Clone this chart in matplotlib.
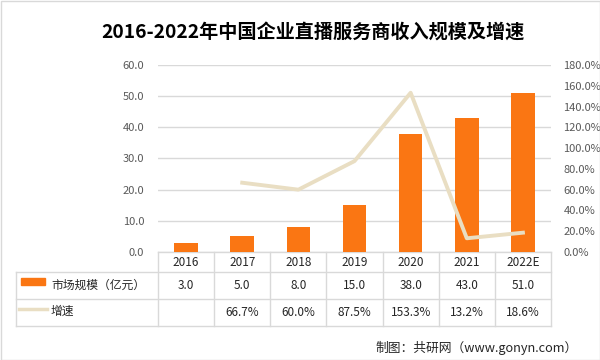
import numpy as np
import matplotlib
matplotlib.use('Agg')
import matplotlib.pyplot as plt
import matplotlib.transforms as mtransforms
from matplotlib.patches import Rectangle
from matplotlib.lines import Line2D

plt.rcParams['font.family'] = ['Noto Sans CJK SC', 'DejaVu Sans']

years = ['2016', '2017', '2018', '2019', '2020', '2021', '2022E']
market = [3.0, 5.0, 8.0, 15.0, 38.0, 43.0, 51.0]
growth = [np.nan, 66.7, 60.0, 87.5, 153.3, 13.2, 18.6]
left_ticks = [0, 10, 20, 30, 40, 50, 60]
right_ticks = [0, 20, 40, 60, 80, 100, 120, 140, 160, 180]

title = '2016-2022年中国企业直播服务商收入规模及增速'
bar_name = '市场规模（亿元）'
line_name = '增速'
source = '制图：共研网（www.gonyn.com）'

bar_color = '#FA7613'
line_color = '#E9DEC3'
grid_color = '#D9D9D9'
tick_color = '#595959'
text_color = '#262626'

W, H = 600, 360
fig = plt.figure(figsize=(6, 3.6), dpi=100)
ax = fig.add_axes([158 / W, 1 - 252 / H, (551 - 158) / W, (252 - 65) / H])
ax2 = ax.twinx()

x = np.arange(len(years))
ax.bar(x, market, width=0.42, color=bar_color, zorder=3)
ax.set_xlim(-0.5, len(years) - 0.5)
ax.set_ylim(0, 60)
ax.set_yticks(left_ticks)
ax.set_yticklabels([f'{v:.1f}' for v in left_ticks])
ax.yaxis.grid(True, color=grid_color, linewidth=1)
ax.set_axisbelow(True)
ax.set_xticks([])
ax.tick_params(axis='y', length=0, pad=10, labelsize=8, labelcolor=tick_color)

ax2.plot(x, growth, color=line_color, linewidth=2.8, zorder=4)
ax2.set_ylim(0, 180)
ax2.set_yticks(right_ticks)
ax2.set_yticklabels([f'{v:.1f}%' for v in right_ticks])
ax2.tick_params(axis='y', length=0, pad=9, labelsize=8, labelcolor=tick_color)

for a in (ax, ax2):
    for s in a.spines.values():
        s.set_visible(False)

# data table below the plot: x in data units, y in axes fraction
trans = mtransforms.blended_transform_factory(ax.transData, ax.transAxes)
ph = 252 - 65
r0, r1, r2, r3 = 0, -20 / ph, -47 / ph, -74 / ph
xl = -0.5 - (158 - 16) / ((551 - 158) / len(years))
xr = len(years) - 0.5

def tline(xs, ys):
    ax.add_line(Line2D(xs, ys, transform=trans, color=grid_color, linewidth=1,
                       clip_on=False, zorder=1))

tline([-0.5, xr], [r0, r0])
for ry in (r1, r2, r3):
    tline([xl, xr], [ry, ry])
tline([xl, xl], [r1, r3])
for b in np.arange(-0.5, len(years), 1.0):
    tline([b, b], [r0, r3])

fs = 8.5
for i in range(len(years)):
    ax.text(i, (r0 + r1) / 2, years[i], transform=trans, ha='center', va='center',
            fontsize=fs, color=text_color)
    ax.text(i, (r1 + r2) / 2, f'{market[i]:.1f}', transform=trans, ha='center',
            va='center', fontsize=fs, color=text_color)
    if not np.isnan(growth[i]):
        ax.text(i, (r2 + r3) / 2, f'{growth[i]:.1f}%', transform=trans, ha='center',
                va='center', fontsize=fs, color=text_color)

# legend keys inside the table
fig.patches.append(Rectangle((21 / W, 1 - 285 / H), 24 / W, 7 / H,
                             transform=fig.transFigure, color=bar_color))
fig.lines.append(Line2D([19 / W, 47 / W], [1 - 309 / H, 1 - 309 / H],
                        transform=fig.transFigure, color=line_color, linewidth=2.5))
fig.text(51 / W, 1 - 285.5 / H, bar_name, ha='left', va='center', fontsize=fs,
         color=text_color)
fig.text(51 / W, 1 - 311 / H, line_name, ha='left', va='center', fontsize=fs,
         color=text_color)

fig.text(313 / W, 1 - 32 / H, title, ha='center', va='center', fontsize=13.8,
         fontweight='bold', color='black')
fig.text(578 / W, 1 - 348 / H, source, ha='right', va='center', fontsize=9.2,
         color=text_color)

fig.patches.append(Rectangle((0.5 / W, 0.5 / H), 1 - 1 / W, 1 - 1 / H,
                             transform=fig.transFigure, fill=False,
                             edgecolor=grid_color, linewidth=1))

fig.savefig('out.png', dpi=100)
